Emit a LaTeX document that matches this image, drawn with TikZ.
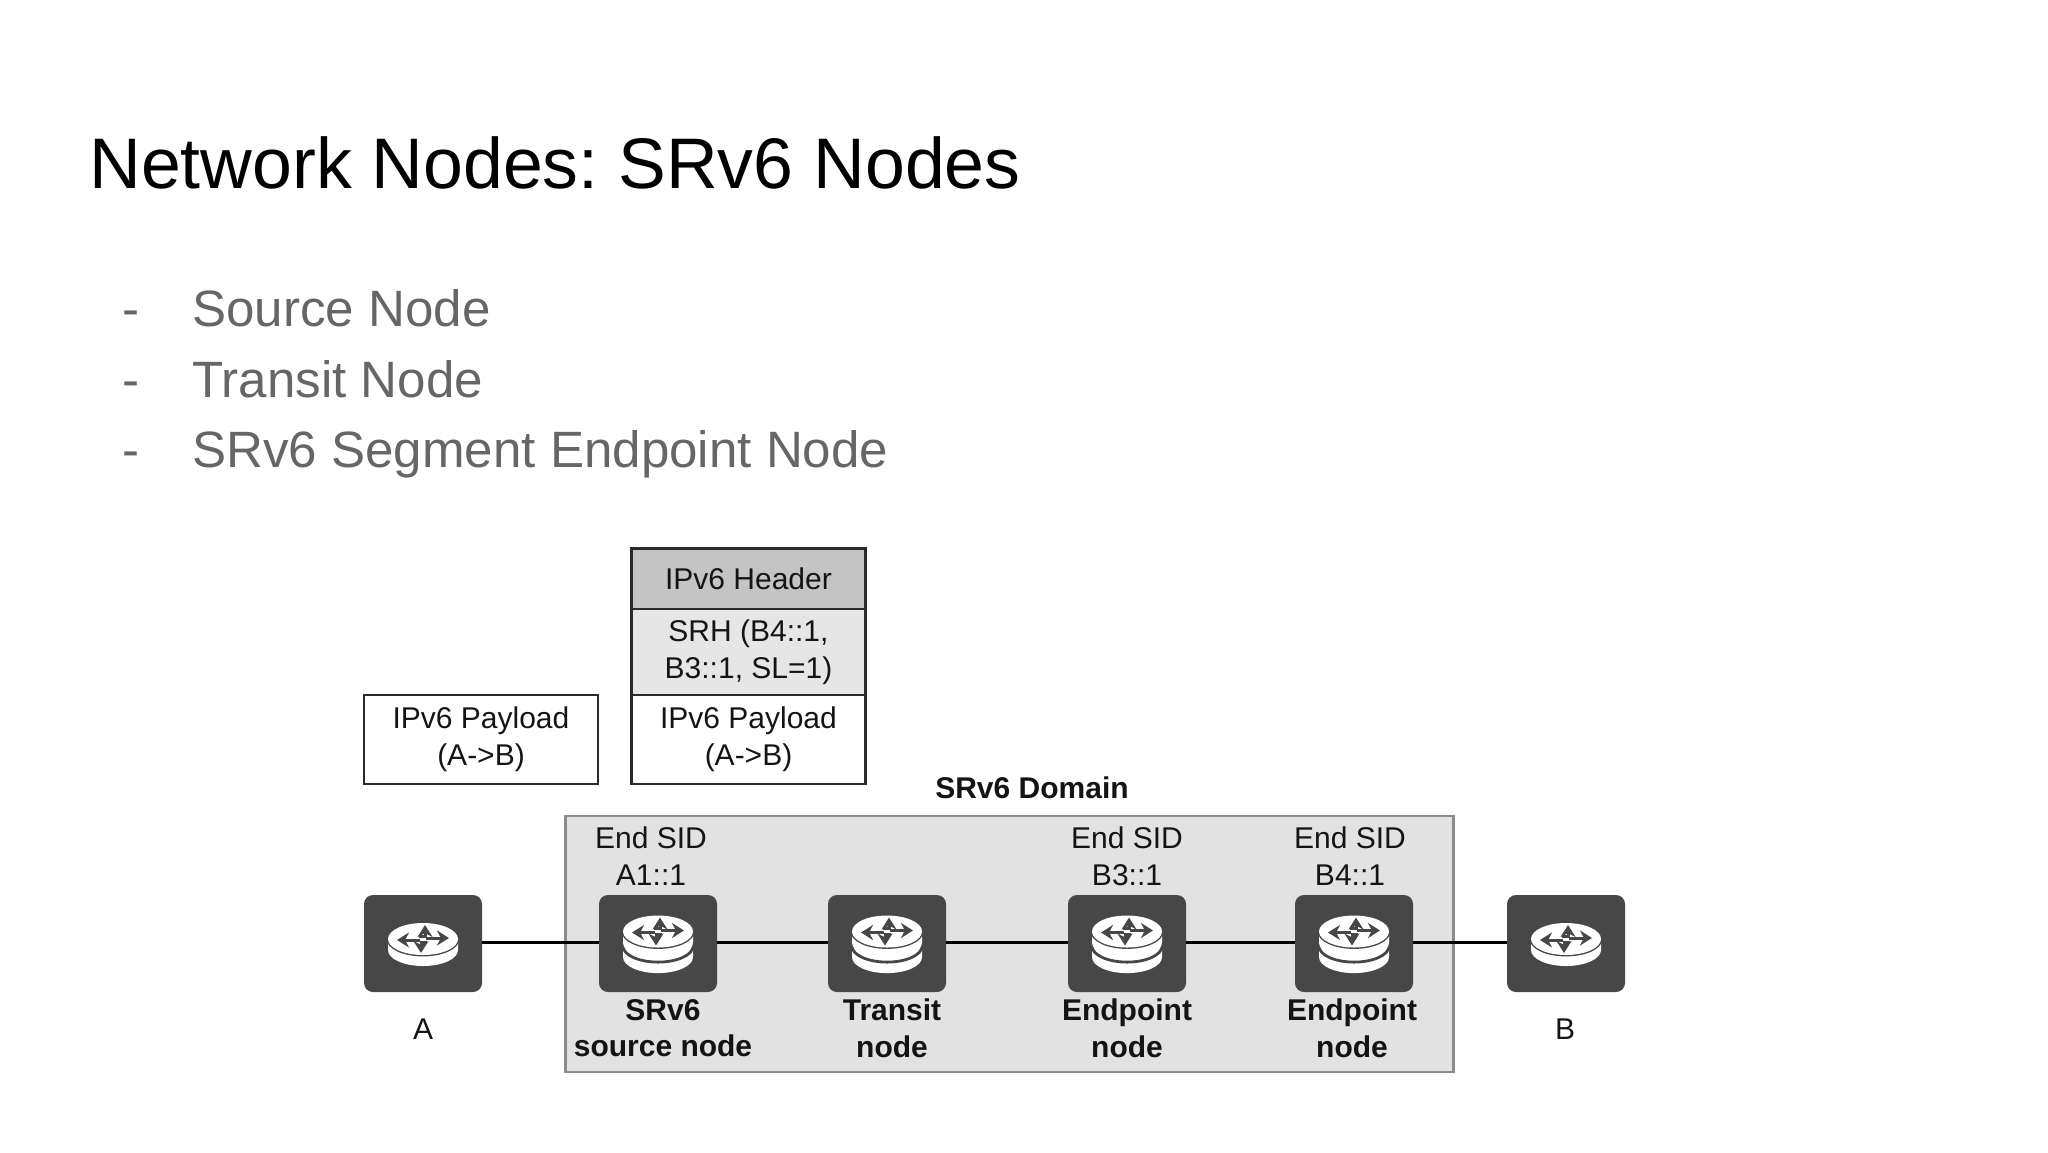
\documentclass[tikz,border=0pt]{standalone}
\usepackage{fontspec}
\setmainfont{Liberation Sans}
\frenchspacing
\usetikzlibrary{arrows.meta}
\definecolor{rtrgray}{HTML}{474747}
\definecolor{domfill}{HTML}{E2E2E2}
\definecolor{domline}{HTML}{8C8C8C}
\definecolor{hdrfill}{HTML}{C4C4C4}
\definecolor{srhfill}{HTML}{E6E6E6}
\definecolor{bulgray}{HTML}{666666}
\definecolor{pktline}{HTML}{2A2A2A}
\definecolor{txtblack}{HTML}{141414}
\tikzset{
  pktbox/.style={draw=pktline,line width=1.4pt,rectangle,inner sep=0pt,minimum width=117pt,align=center,text=txtblack,font=\fontsize{15}{18.3}\selectfont},
  rtrbox/.style={fill=rtrgray,rectangle,rounded corners=4.5pt,minimum width=59pt,minimum height=48.5pt,inner sep=0pt},
  lbl/.style={align=center,inner sep=0pt,text=txtblack,font=\fontsize{15}{18.3}\selectfont},
  blbl/.style={lbl,font=\fontsize{15}{18.3}\selectfont\bfseries},
  bullet/.style={anchor=base west,inner sep=0pt,text=bulgray,font=\fontsize{25.55}{28}\selectfont},
  rtrarrow/.style={draw=rtrgray,line width=1.5pt,-{Stealth[length=6pt,width=7.5pt]}},
  pics/rtrtop/.style={code={
    \fill[white] (0,0) ellipse[x radius=35,y radius=16];
    \draw[rtrarrow] (-3,1) -- (-26,1);
    \draw[rtrarrow] (3,-1) -- (26,-1);
    \draw[rtrarrow] (-4,-3) -| (2,-14);
    \draw[rtrarrow] (4,3) -| (-2,14);
  }},
  pics/rtrlayer/.style={code={
    \fill[white] (-35,0) -- (-35,11) arc[start angle=180,end angle=0,x radius=35,y radius=16] -- (35,0) -- cycle;
    \draw[rtrgray,line width=1.4pt] (-35,0) arc[start angle=180,end angle=0,x radius=35,y radius=16];
  }}
}
\begin{document}
\begin{tikzpicture}[x=0.5pt,y=-0.5pt]
\useasboundingbox (0,0) rectangle (2048,1152);
\node[anchor=base west,inner sep=0pt,text=black,font=\fontsize{35.8}{40}\selectfont] (title) at (89,188) {Network Nodes: SRv6 Nodes};
\foreach \y/\nm/\t in {326.5/src/Source Node,397/trn/Transit Node,467.5/seg/SRv6 Segment Endpoint Node} {
   \node[bullet] (dash\nm) at (122,\y) {-};
   \node[bullet] (item\nm) at (192,\y) {\t};
}
% packets
\node[pktbox,minimum height=44.5pt] (pay) at (481,739.5) {IPv6 Payload\\(A->B)};
\node[pktbox,minimum height=30.2pt,fill=hdrfill] (hdr) at (748.5,579) {IPv6 Header};
\node[pktbox,minimum height=43pt,fill=srhfill] (srh) at (748.5,652) {SRH (B4::1,\\B3::1, SL=1)};
\node[pktbox,minimum height=44.5pt] (pay2) at (748.5,739.5) {IPv6 Payload\\(A->B)};
% domain
\node[blbl] (domlbl) at (1032,788) {SRv6 Domain};
\node[draw=domline,fill=domfill,line width=1.4pt,rectangle,minimum width=444pt,minimum height=128pt,inner sep=0pt] (dom) at (1009.5,944) {};
% routers
\foreach \x/\nm in {423/ra,658/rs,887/rt,1127/re,1354/rf,1566/rb} {
   \node[rtrbox] (\nm) at (\x,943.5) {};
}
\foreach \a/\b in {ra/rs,rs/rt,rt/re,re/rf,rf/rb} {
   \draw[black,line width=1.2pt] ([yshift=0.6pt]\a.east) -- ([yshift=0.6pt]\b.west);
}
\foreach \nm in {rs,rt,re,rf} {
   \pic at ([yshift=-1.3pt]\nm.center) {rtrlayer};
   \pic at ([yshift=6pt]\nm.center) {rtrlayer};
   \pic at ([yshift=6pt]\nm.center) {rtrtop};
}
\foreach \nm in {ra,rb} {
   \pic at ([yshift=2.25pt]\nm.center) {rtrlayer};
   \pic at ([yshift=2.25pt]\nm.center) {rtrtop};
}
% labels
\foreach \x/\nm/\t in {651/a/A1::1,1127/c/B3::1,1350/d/B4::1} {
   \node[lbl] (sid\nm) at (\x,856) {End SID\\\t};
}
\node[blbl] (lblrs) at (663,1028) {SRv6\\source node};
\node[blbl] (lblrt) at (892,1028) {Transit\\node};
\node[blbl] (lblre) at (1127,1028) {Endpoint\\node};
\node[blbl] (lblrf) at (1352,1028) {Endpoint\\node};
\node[lbl] (lblra) at (423,1029) {A};
\node[lbl] (lblrb) at (1565,1029) {B};
\end{tikzpicture}
\end{document}
